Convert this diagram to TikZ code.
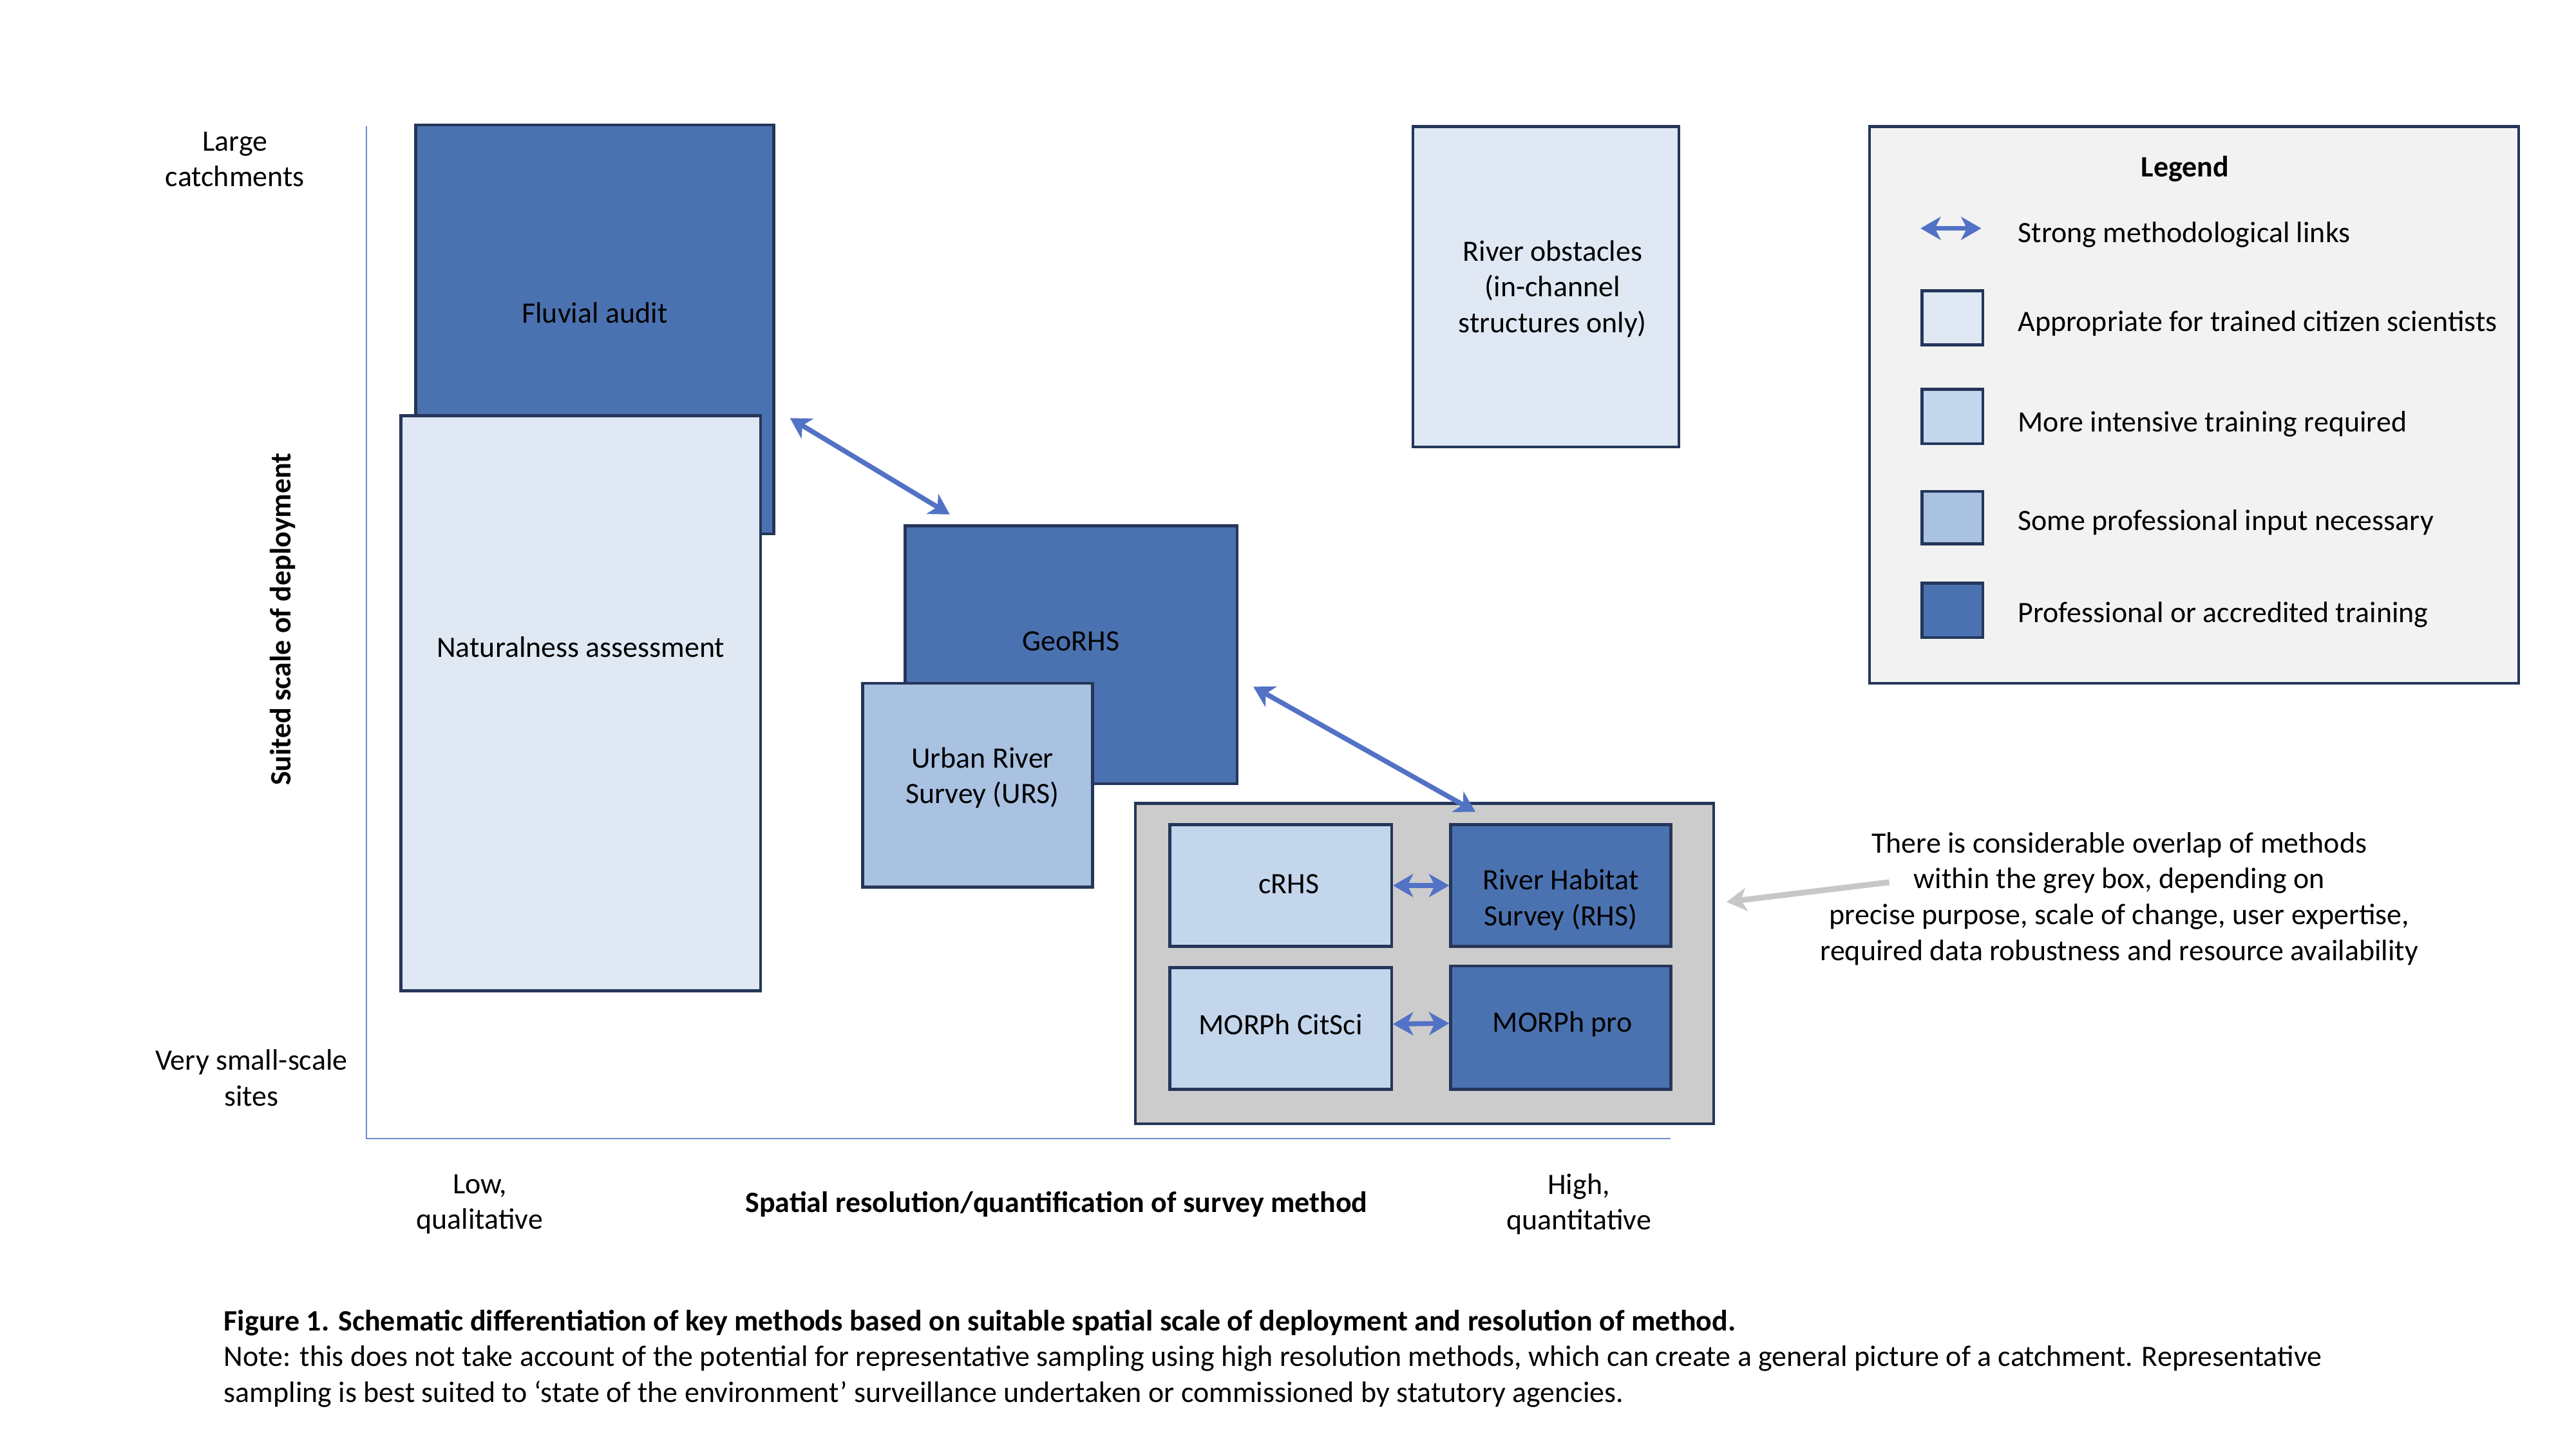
\documentclass[tikz,border=0pt]{standalone}
\usepackage{fontspec}
\setmainfont{Carlito}
\usetikzlibrary{fit,arrows.meta}
\definecolor{navy}{HTML}{25365A}
\definecolor{deep}{HTML}{4B72B0}
\definecolor{pale}{HTML}{DFE8F3}
\definecolor{light}{HTML}{C4D6EC}
\definecolor{mid}{HTML}{A9C2E2}
\definecolor{linkblue}{HTML}{5272C5}
\definecolor{axisblue}{HTML}{6F8BD3}
\begin{document}
\begin{tikzpicture}[x=0.02cm,y=-0.02cm,
    txt/.style={font=\fontsize{10.25}{12.4}\selectfont,align=center},
    bold/.style={font=\fontsize{10.25}{12.4}\selectfont\bfseries,align=center},
    every label/.style={txt},
    box/.style={draw=navy,line width=1pt,inner sep=0pt},
    tip/.tip={Stealth[length=7pt,width=8pt,inset=2pt]},
    link/.style={draw=linkblue,line width=1.7pt,tip-tip},
    axis/.style={draw=axisblue,line width=0.6pt}]
\useasboundingbox (0,0) rectangle (1568,882);
% axes
\draw[axis] (223,77) -- (223,693) -- (1017,693);
\node[txt] (large) at (143,97) {Large\\catchments};
\node[txt] (small) at (153,656) {Very small-scale\\sites};
\node[txt] (low) at (292,733) {Low,\\qualitative};
\node[txt] (high) at (961,733) {High,\\quantitative};
\node[bold] (xtitle) at (643,733) {Spatial resolution/quantification of survey method};
\node[bold,rotate=90] (ytitle) at (172,377) {Suited scale of deployment};
% methods
\node[box,fill=deep,fit={(253,76) (471,325)},label={[yshift=5.7pt]center:Fluvial audit}] (fluvial) {};
\node[box,fill=pale,fit={(244,253) (463,603)},label={[yshift=19.4pt]center:Naturalness assessment}] (natural) {};
\node[box,fill=deep,fit={(551,320) (753,477)},label={[yshift=4.6pt]center:GeoRHS}] (geo) {};
\node[box,fill=mid,fit={(525,416) (665,540)},label={[xshift=1.7pt,yshift=2.6pt]center:Urban River\\Survey (URS)}] (urs) {};
\node[box,fill=pale,fit={(860,77) (1022,272)},label={[xshift=2.3pt,yshift=-0.8pt]center:River obstacles\\(in-channel\\structures only)}] (obstacles) {};
\node[box,fill=black!20,fit={(691,489) (1043,684)}] (grey) {};
\node[box,fill=light,fit={(712,502) (847,576)},label={[xshift=2.8pt,yshift=0.6pt]center:cRHS}] (crhs) {};
\node[box,fill=deep,fit={(883,502) (1017,576)},label={[yshift=-5pt]center:River Habitat\\Survey (RHS)}] (rhs) {};
\node[box,fill=light,fit={(712,589) (847,663)},label={[yshift=1.5pt]center:MORPh CitSci}] (citsci) {};
\node[box,fill=deep,fit={(883,588) (1017,663)},label={[xshift=0.6pt,yshift=1.2pt]center:MORPh pro}] (pro) {};
\draw[link] ([shift={(9,54)}]fluvial.east) -- ([shift={(28,-6)}]geo.north west);
\draw[link] ([shift={(9,19.5)}]geo.east) -- ([shift={(16,-7)}]rhs.north west);
\draw[link] (crhs.east) -- (rhs.west);
\draw[link] ([yshift=1.5pt]citsci.east) -- ([yshift=1.5pt]pro.west);
% note on the grey box
\node[txt] (note) at (1290,547) {There is considerable overlap of methods\\within the grey box, depending on\\precise purpose, scale of change, user expertise,\\required data robustness and resource availability};
\coordinate (notetail) at (1150,537);
\draw[draw=black!22,line width=2pt,-{Stealth[length=7pt,width=8pt,inset=2pt]}] (notetail) -- ([shift={(7,-37.5)}]grey.east);
% legend
\node[box,fill=black!5,fit={(1138,77) (1533,416)}] (legend) {};
\node[bold] (legtitle) at (1330,103) {Legend};
\coordinate (legl) at (1169,139);
\coordinate (legr) at (1206,139);
\draw[link] (legl) -- (legr);
\node[box,fill=pale,fit={(1170,177) (1207,210)}] (keypale) {};
\node[box,fill=light,fit={(1170,237) (1207,270)}] (keylight) {};
\node[box,fill=mid,fit={(1170,299) (1207,331)}] (keymid) {};
\node[box,fill=deep,fit={(1170,355) (1207,388)}] (keydeep) {};
\node[txt,anchor=west,inner sep=0pt] (keylink) at (1228,143) {Strong methodological links};
\node[txt,anchor=west,inner sep=0pt] at (1228,197) {Appropriate for trained citizen scientists};
\node[txt,anchor=west,inner sep=0pt] at (1228,258) {More intensive training required};
\node[txt,anchor=west,inner sep=0pt] at (1228,318) {Some professional input necessary};
\node[txt,anchor=west,inner sep=0pt] at (1228,374) {Professional or accredited training};
% caption
\node[txt,align=left,anchor=west,inner sep=0pt] (caption) at (136,827) {\textbf{Figure 1. Schematic differentiation of key methods based on suitable spatial scale of deployment and resolution of method.}\\Note: this does not take account of the potential for representative sampling using high resolution methods, which can create a general picture of a catchment. Representative\\sampling is best suited to ‘state of the environment’ surveillance undertaken or commissioned by statutory agencies.};
\end{tikzpicture}
\end{document}
